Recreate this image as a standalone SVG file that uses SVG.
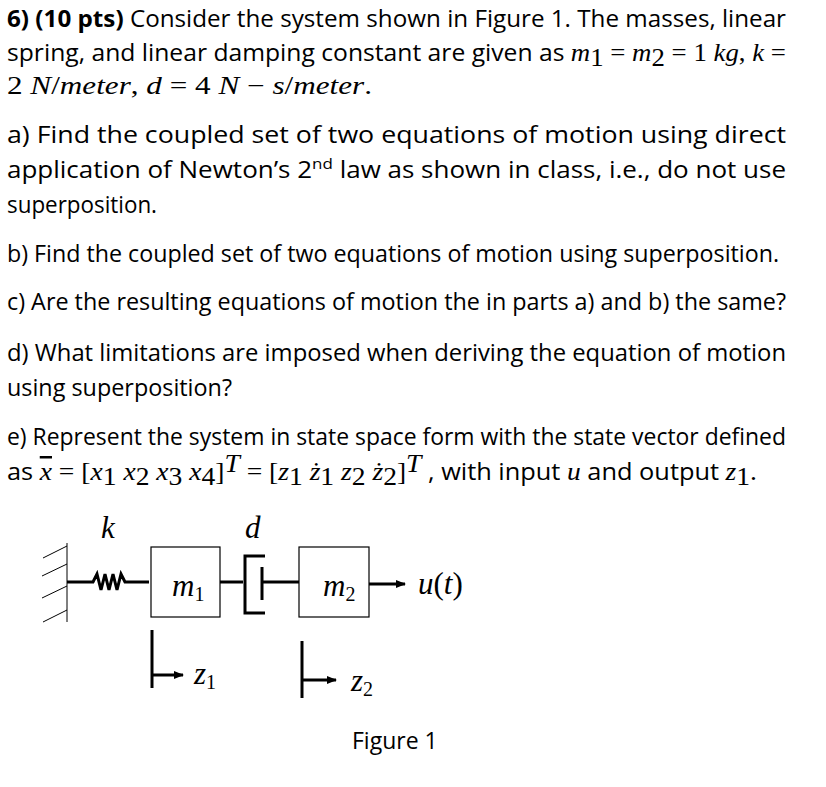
<svg xmlns="http://www.w3.org/2000/svg" width="826" height="787" viewBox="0 0 826 787">
<style>
.t{font-family:"Open Sans","Liberation Sans",sans-serif;font-size:23px;fill:#000}
.m{font-family:"Liberation Serif",serif;font-style:italic;font-size:25px}
.r{font-family:"Liberation Serif",serif;font-style:normal;font-size:25px}
.f{font-family:"Liberation Serif",serif;font-style:italic;font-size:31px}
.fr{font-family:"Liberation Serif",serif;font-style:normal}
.b{font-weight:bold}
.ln{stroke:#000;stroke-width:3;fill:none}
.box{stroke:#000;stroke-width:1.2;fill:#fff}
.th{stroke:#000;stroke-width:1;fill:none}
</style>
<defs><marker id="ah" markerWidth="10" markerHeight="8" refX="9" refY="4" orient="auto" markerUnits="userSpaceOnUse"><path d="M0,0L10,4L0,8z" fill="#000"/></marker></defs>
<rect width="826" height="787" fill="#fff"/>
<g id="text">
<text class="t" x="7" y="27" textLength="779" lengthAdjust="spacingAndGlyphs"><tspan class="b">6) (10 pts)</tspan> Consider the system shown in Figure 1. The masses, linear</text>
<text class="t" x="7" y="61" textLength="779" lengthAdjust="spacingAndGlyphs">spring, and linear damping constant are given as <tspan class="m">m</tspan><tspan class="r" font-size="16" dy="5">1</tspan><tspan class="r" dy="-5"> = </tspan><tspan class="m">m</tspan><tspan class="r" font-size="16" dy="5">2</tspan><tspan class="r" dy="-5"> = 1 </tspan><tspan class="m">kg</tspan><tspan class="r">,  </tspan><tspan class="m">k</tspan><tspan class="r"> =</tspan></text>
<text class="t" x="7" y="94" textLength="365" lengthAdjust="spacingAndGlyphs"><tspan class="r">2 </tspan><tspan class="m">N</tspan><tspan class="r">/</tspan><tspan class="m">meter</tspan><tspan class="r">, </tspan><tspan class="m">d</tspan><tspan class="r"> = 4 </tspan><tspan class="m">N</tspan><tspan class="r"> − </tspan><tspan class="m">s</tspan><tspan class="r">/</tspan><tspan class="m">meter</tspan><tspan class="r">.</tspan></text>
<text class="t" x="7" y="143" textLength="779" lengthAdjust="spacingAndGlyphs">a) Find the coupled set of two equations of motion using direct</text>
<text class="t" x="7" y="178" textLength="779" lengthAdjust="spacingAndGlyphs">application of Newton’s 2<tspan font-size="15" dy="-9">nd</tspan><tspan dy="9"> law as shown in class, i.e., do not use</tspan></text>
<text class="t" x="7" y="213" textLength="150" lengthAdjust="spacingAndGlyphs">superposition.</text>
<text class="t" x="7" y="262" textLength="772" lengthAdjust="spacingAndGlyphs">b) Find the coupled set of two equations of motion using superposition.</text>
<text class="t" x="7" y="310" textLength="779" lengthAdjust="spacingAndGlyphs">c) Are the resulting equations of motion the in parts a) and b) the same?</text>
<text class="t" x="7" y="361" textLength="779" lengthAdjust="spacingAndGlyphs">d) What limitations are imposed when deriving the equation of motion</text>
<text class="t" x="7" y="396" textLength="225" lengthAdjust="spacingAndGlyphs">using superposition?</text>
<text class="t" x="7" y="445" textLength="779" lengthAdjust="spacingAndGlyphs">e) Represent the system in state space form with the state vector defined</text>
<text class="t" x="7" y="480" textLength="750" lengthAdjust="spacingAndGlyphs">as <tspan class="m" text-decoration="overline">x</tspan><tspan class="r"> = [</tspan><tspan class="m">x</tspan><tspan class="r" font-size="16" dy="5">1</tspan><tspan class="m" dy="-5"> x</tspan><tspan class="r" font-size="16" dy="5">2</tspan><tspan class="m" dy="-5"> x</tspan><tspan class="r" font-size="16" dy="5">3</tspan><tspan class="m" dy="-5">  x</tspan><tspan class="r" font-size="16" dy="5">4</tspan><tspan class="r" dy="-5">]</tspan><tspan class="m" font-size="14" dy="-8">T</tspan><tspan class="r" dy="8">  =  [</tspan><tspan class="m">z</tspan><tspan class="r" font-size="16" dy="5">1</tspan><tspan class="m" dy="-5"> ż</tspan><tspan class="r" font-size="16" dy="5">1</tspan><tspan class="m" dy="-5"> z</tspan><tspan class="r" font-size="16" dy="5">2</tspan><tspan class="m" dy="-5"> ż</tspan><tspan class="r" font-size="16" dy="5">2</tspan><tspan class="r" dy="-5">]</tspan><tspan class="m" font-size="14" dy="-8">T</tspan><tspan dy="8"> , with input </tspan><tspan class="m">u</tspan> and output <tspan class="m">z</tspan><tspan class="r" font-size="16" dy="5">1</tspan><tspan class="r" dy="-5">.</tspan></text>
</g>
<g id="wall">
<line class="th" x1="67" y1="543" x2="67" y2="622"/>
<line class="th" x1="67" y1="546" x2="43" y2="558"/>
<line class="th" x1="67" y1="564" x2="42" y2="576"/>
<line class="th" x1="67" y1="586" x2="42" y2="598"/>
<line class="th" x1="67" y1="610" x2="43" y2="622"/>
</g>
<g id="m1"><rect class="box" x="151" y="547" width="69" height="70"/><text class="f" x="172" y="596">m<tspan class="fr" font-size="20" dy="5">1</tspan></text></g>
<g id="m2"><rect class="box" x="299" y="547" width="70" height="70"/><text class="f" x="323" y="596">m<tspan class="fr" font-size="20" dy="5">2</tspan></text></g>
<g id="labels">
<text class="f" x="101" y="538">k</text>
<text class="f" x="245" y="538">d</text>
<text class="f" x="418" y="594">u<tspan class="fr">(</tspan>t<tspan class="fr">)</tspan></text>
<text class="f" x="194" y="684">z<tspan class="fr" font-size="20" dy="5">1</tspan></text>
<text class="f" x="351" y="691">z<tspan class="fr" font-size="20" dy="5">2</tspan></text>
<text class="t" x="352" y="749">Figure 1</text>
</g>
<g id="connectors">
<polyline class="ln" points="67,582 93,582 97,574 101,590 105,574 109,590 113,574 117,590 121,574 125,582 149,582"/>
<line class="ln" x1="220" y1="582" x2="243" y2="582"/>
<polyline class="ln" points="265,556 245,556 245,613 265,613"/>
<line class="ln" x1="262" y1="567" x2="262" y2="600"/>
<line class="ln" x1="262" y1="582" x2="299" y2="582"/>
<line class="ln" x1="369" y1="584" x2="405" y2="584" marker-end="url(#ah)"/>
<line class="ln" x1="152" y1="630" x2="152" y2="688"/>
<line class="ln" x1="152" y1="675" x2="183" y2="675" marker-end="url(#ah)"/>
<line class="ln" x1="302" y1="641" x2="302" y2="698"/>
<line class="ln" x1="302" y1="680" x2="336" y2="680" marker-end="url(#ah)"/>
</g>
</svg>
